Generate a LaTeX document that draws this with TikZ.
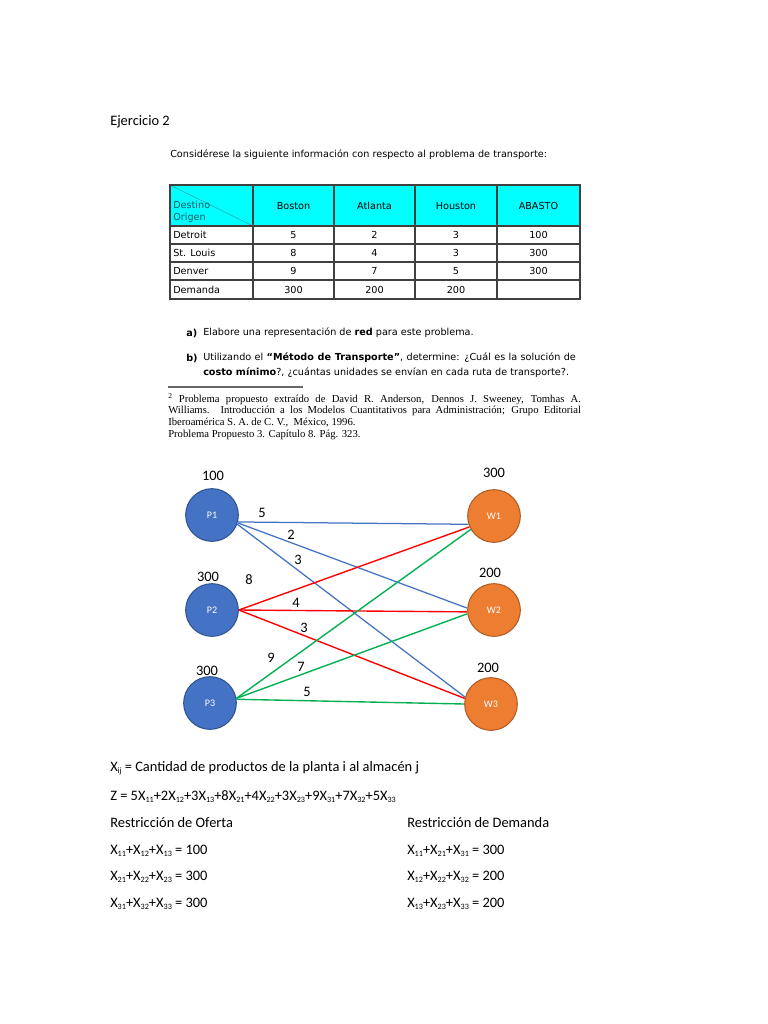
\documentclass[tikz,border=0pt]{standalone}
\usepackage{fontspec}
\setmainfont{Carlito}
\newfontfamily\tabfont{DejaVu Sans}
\newfontfamily\reffont{Liberation Serif}
\definecolor{plantblue}{HTML}{4472C4}
\definecolor{plantedge}{HTML}{2F528F}
\definecolor{storeorange}{HTML}{ED7D31}
\definecolor{storeedge}{HTML}{AE5A21}
\definecolor{linkred}{HTML}{FF0000}
\definecolor{linkgreen}{HTML}{00B050}
\definecolor{headcyan}{HTML}{00FFFF}
\definecolor{diagteal}{HTML}{2E9AA8}
\newcommand{\xv}[1]{X\raisebox{-0.3ex}{\fontsize{6.5}{7}\selectfont #1}}
\tikzset{
  bodytxt/.style={font=\fontsize{11.5}{14}\selectfont},
  tabtxt/.style={font=\tabfont\fontsize{7.7}{9}\selectfont},
  reftxt/.style={font=\reffont\fontsize{8.5}{10}\selectfont},
  gridline/.style={draw=black!75, line width=1.1pt},
  plant/.style={circle, minimum size=42pt, fill=plantblue, draw=plantedge,
    line width=0.8pt, text=white, font=\fontsize{8}{9}\selectfont},
  store/.style={circle, minimum size=42pt, fill=storeorange, draw=storeedge,
    line width=0.8pt, text=white, font=\fontsize{8}{9}\selectfont},
  bluelink/.style={draw=plantblue, line width=1pt},
  redlink/.style={draw=linkred, line width=1.1pt},
  greenlink/.style={draw=linkgreen, line width=1.1pt}
}
\begin{document}
\begin{tikzpicture}[x=0.797pt, y=-0.797pt, every node/.append style={inner sep=0pt, bodytxt}]
    \useasboundingbox[fill=white] (0,0) rectangle (768,1024);
    \node[anchor=west] (title) at (110,122) {Ejercicio 2};
    \node[anchor=west, tabtxt] (intro) at (170,155) {Considérese la siguiente información con respecto al problema de transporte:};
    % table
    \fill[headcyan] (170,185) rectangle (580,226);
    \draw[diagteal, line width=0.4pt] (170,185) -- (253,226);
    \draw[gridline] (170,185) rectangle (580,299);
    \draw[gridline] (253,185) -- (253,299);
    \draw[gridline] (334,185) -- (334,299);
    \draw[gridline] (415,185) -- (415,299);
    \draw[gridline] (497,185) -- (497,299);
    \draw[gridline] (170,226) -- (580,226);
    \draw[gridline] (170,244) -- (580,244);
    \draw[gridline] (170,262) -- (580,262);
    \draw[gridline] (170,280) -- (580,280);
    % header
    \node[anchor=west, tabtxt, text=diagteal!60!black] (dest) at (173,205) {Destino};
    \node[anchor=west, tabtxt, text=diagteal!60!black] (orig) at (173,218) {Origen};
    \node[tabtxt] (bos) at (293.5,206) {Boston};
    \node[tabtxt] (atl) at (374.5,206) {Atlanta};
    \node[tabtxt] (hou) at (456,206) {Houston};
    \node[tabtxt] (aba) at (538.5,206) {ABASTO};
    % first row
    \node[anchor=west, tabtxt] (det) at (173,235) {Detroit};
    \node[tabtxt] (det1) at (293.5,235) {5};
    \node[tabtxt] (det2) at (374.5,235) {2};
    \node[tabtxt] (det3) at (456,235) {3};
    \node[tabtxt] (det4) at (538.5,235) {100};
    % second row
    \node[anchor=west, tabtxt] (stl) at (173,253) {St. Louis};
    \node[tabtxt] (stl1) at (293.5,253) {8};
    \node[tabtxt] (stl2) at (374.5,253) {4};
    \node[tabtxt] (stl3) at (456,253) {3};
    \node[tabtxt] (stl4) at (538.5,253) {300};
    % third row
    \node[anchor=west, tabtxt] (den) at (173,271) {Denver};
    \node[tabtxt] (den1) at (293.5,271) {9};
    \node[tabtxt] (den2) at (374.5,271) {7};
    \node[tabtxt] (den3) at (456,271) {5};
    \node[tabtxt] (den4) at (538.5,271) {300};
    % demand row
    \node[anchor=west, tabtxt] (dem) at (173,290) {Demanda};
    \node[tabtxt] (dem1) at (293.5,290) {300};
    \node[tabtxt] (dem2) at (374.5,290) {200};
    \node[tabtxt] (dem3) at (456,290) {200};
    % questions
    \node[anchor=west, tabtxt] (qa) at (186,333) {\textbf{a)}};
    \node[anchor=west, tabtxt] (qatext) at (203,333) {Elabore una representación de \textbf{red} para este problema.};
    \node[anchor=west, tabtxt] (qb) at (186,358) {\textbf{b)}};
    \node[anchor=west, tabtxt] (qbtext) at (203,358) {\makebox[297pt][s]{Utilizando el \textbf{“Método de Transporte”}, determine: ¿Cuál es la solución de}};
    \node[anchor=west, tabtxt] (qbmore) at (203,373) {\textbf{costo mínimo}?, ¿cuántas unidades se envían en cada ruta de transporte?.};
    % footnote
    \draw[black!60, line width=1pt] (168,387) -- (303,387);
    \node[anchor=west, reftxt] (fn1) at (168,399) {\makebox[329pt][s]{\textsuperscript{2} Problema propuesto extraído de David R. Anderson, Dennos J. Sweeney, Tomhas A.}};
    \node[anchor=west, reftxt] (fn2) at (168,411) {\makebox[329pt][s]{Williams. Introducción a los Modelos Cuantitativos para Administración; Grupo Editorial}};
    \node[anchor=west, reftxt] (fn3) at (168,423) {Iberoamérica S. A. de C. V., \ México, 1996.};
    \node[anchor=west, reftxt] (fn4) at (168,435) {Problema Propuesto 3. Capítulo 8. Pág. 323.};
    % network
    \node[plant] (P1) at (212,515) {P1};
    \node[plant] (P2) at (212,610) {P2};
    \node[plant] (P3) at (210,703) {P3};
    \node[store] (W1) at (494,516) {W1};
    \node[store] (W2) at (494,610) {W2};
    \node[store] (W3) at (491,704) {W3};
    \node (s1) at (213,476) {100};
    \node (s2) at (208,577) {300};
    \node (s3) at (207,671) {300};
    \node (d1) at (494,473) {300};
    \node (d2) at (490,573) {200};
    \node (d3) at (488,668) {200};
    \draw[bluelink] (P1.-15) -- (W1.198);
    \draw[bluelink] (P1.-17) -- (W2.176);
    \draw[bluelink] (P1.-20) -- (W3.165);
    \draw[redlink] (P2.0) -- (W1.204);
    \draw[redlink] (P2.0) -- (W2.184);
    \draw[redlink] (P2.0) -- (W3.168);
    \draw[greenlink] (P3.10) -- (W1.210);
    \draw[greenlink] (P3.10) -- (W2.188);
    \draw[greenlink] (P3.8) -- (W3.180);
    \node (c11) at (262,513) {5};
    \node (c12) at (291,535) {2};
    \node (c13) at (298,560) {3};
    \node (c21) at (249,580) {8};
    \node (c22) at (296,603) {4};
    \node (c23) at (304,628) {3};
    \node (c31) at (271,658) {9};
    \node (c32) at (301,667) {7};
    \node (c33) at (307,692) {5};
    % model
    \node[anchor=west] (vars) at (110,768) {\xv{ij} = Cantidad de productos de la planta i al almacén j};
    \node[anchor=west] (obj) at (110,797) {Z = 5\xv{11}+2\xv{12}+3\xv{13}+8\xv{21}+4\xv{22}+3\xv{23}+9\xv{31}+7\xv{32}+5\xv{33}};
    \node[anchor=west] (ofer) at (110,823) {Restricción de Oferta};
    \node[anchor=west] (dema) at (407,823) {Restricción de Demanda};
    \node[anchor=west] (of1) at (110,851) {\xv{11}+\xv{12}+\xv{13} = 100};
    \node[anchor=west] (of2) at (110,877) {\xv{21}+\xv{22}+\xv{23} = 300};
    \node[anchor=west] (of3) at (110,904) {\xv{31}+\xv{32}+\xv{33} = 300};
    \node[anchor=west] (de1) at (407,851) {\xv{11}+\xv{21}+\xv{31} = 300};
    \node[anchor=west] (de2) at (407,877) {\xv{12}+\xv{22}+\xv{32} = 200};
    \node[anchor=west] (de3) at (407,904) {\xv{13}+\xv{23}+\xv{33} = 200};
\end{tikzpicture}
\end{document}
